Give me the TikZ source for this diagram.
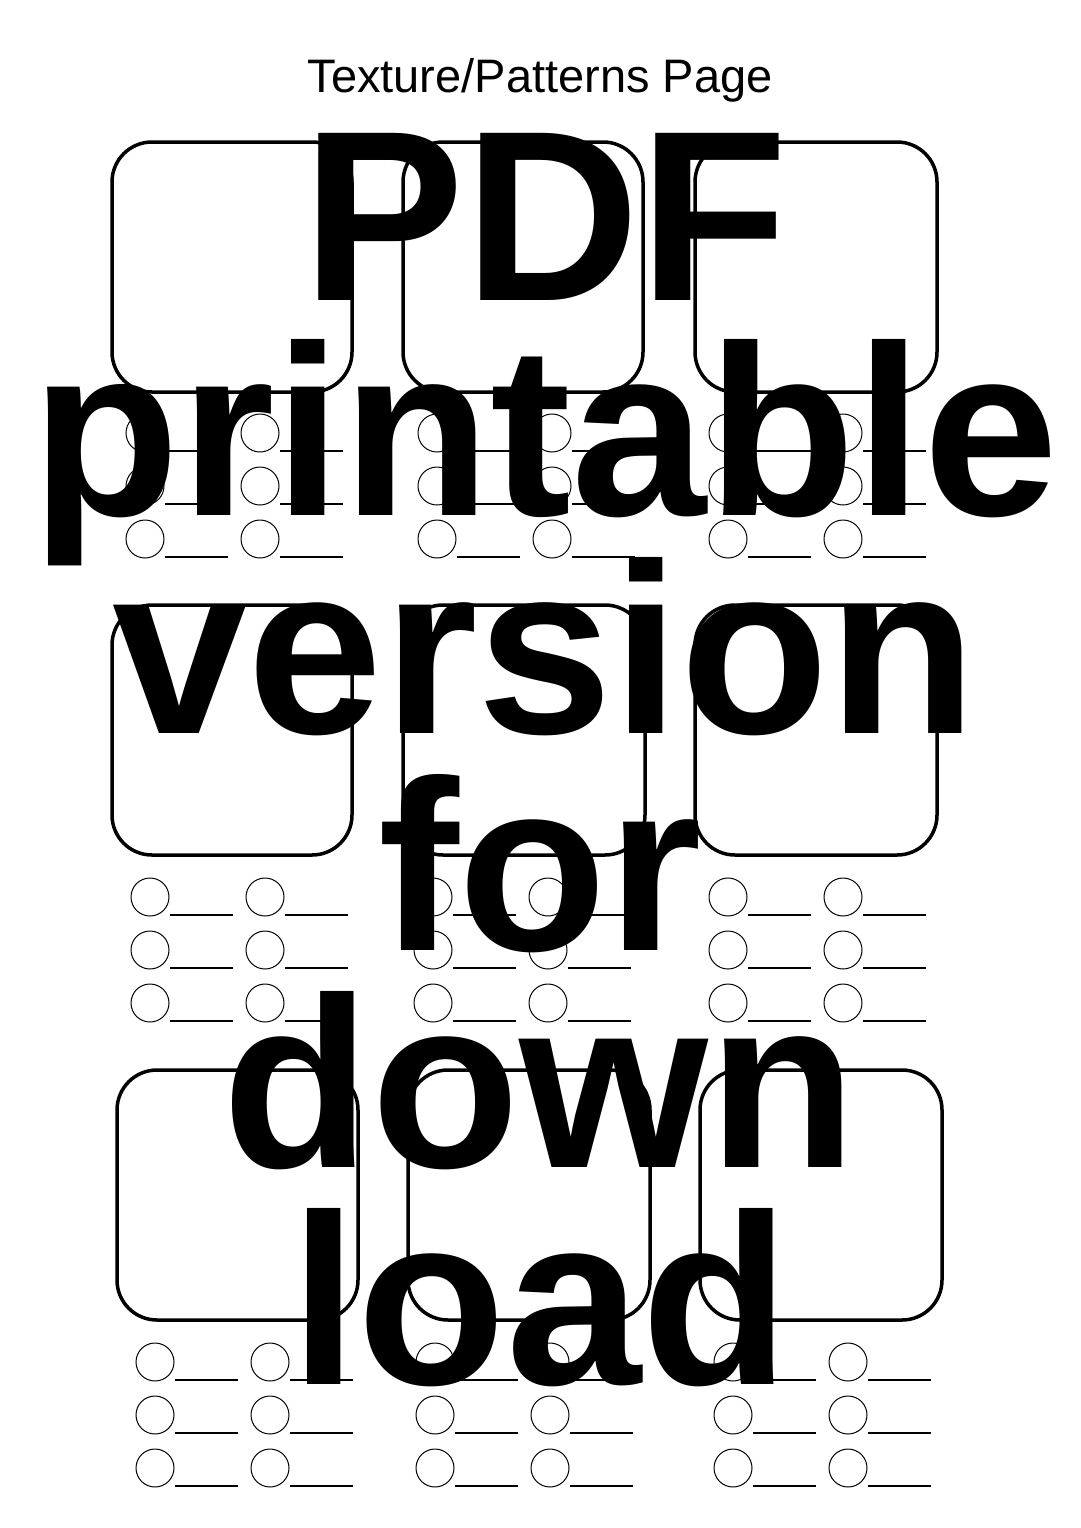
\documentclass[tikz,border=0pt]{standalone}
\usepackage{fontspec}
\setmainfont{Liberation Sans}
\begin{document}
\begin{tikzpicture}[x=1pt,y=-1pt,
  box/.style={draw,line width=3.5pt,rounded corners=40pt},
  dot/.style={draw,circle,line width=1pt,minimum size=38pt,inner sep=0pt},
  big/.style={anchor=base,font=\fontsize{243}{216}\selectfont\bfseries}]
\useasboundingbox (0,0) rectangle (1080,1528);
\node (title) at (540,80) {\fontsize{47}{50}\selectfont Texture/Patterns Page};
% boxes
\foreach \x/\y/\w [count=\i] in {112/142/240,403/142/240,695/142/242,112/605/240,403/605/242,695/605/242,117/1070/241,408/1070/242,700/1070/242}
  \draw[box] (\x,\y) rectangle ++(\w,250);
% circles and lines
\foreach \cx/\ry in {145/433,437/433,728/433,150/897,433/897,728/897,155/1362,435/1362,733/1362}{
  \foreach \dy in {0,53,106}{
    \foreach \dx in {0,115}{
      \node[dot] at (\cx+\dx,\ry+\dy) {};
      \draw[line width=1.3pt] (\cx+\dx+20,\ry+\dy+18) -- ++(63,0);
    }
  }
}
\node[big] (l1) at (545,300) {PDF};
\node[big] (l2) at (545,515) {printable};
\node[big] (l3) at (545,733) {version};
\node[big] (l4) at (540,950) {for};
\node[big] (l5) at (540,1167) {down};
\node[big] (l6) at (540,1384) {load};
\end{tikzpicture}
\end{document}
